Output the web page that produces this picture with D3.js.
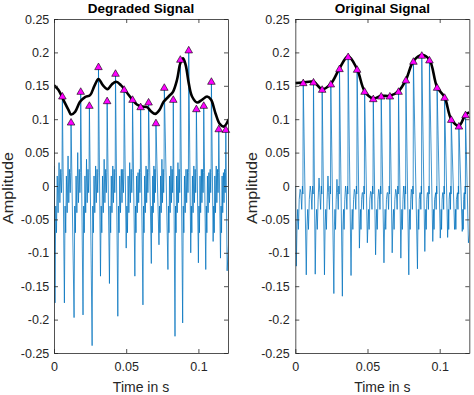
<!DOCTYPE html>
<html><head><meta charset="utf-8">
<script src="https://cdn.jsdelivr.net/npm/d3@7"></script>
<style>html,body{margin:0;padding:0;background:#fff;} svg{display:block;}</style>
</head><body>
<svg id="chart" width="474" height="395"></svg>
<script>
// ---- tick data ----
const xTicks = [0, 0.05, 0.1];
const xTickLabels = ["0", "0.05", "0.1"];
const yTicks = [-0.25, -0.2, -0.15, -0.1, -0.05, 0, 0.05, 0.1, 0.15, 0.2, 0.25];
const yTickLabels = ["-0.25", "-0.2", "-0.15", "-0.1", "-0.05", "0", "0.05", "0.1", "0.15", "0.2", "0.25"];
const titles = ["Degraded Signal", "Original Signal"];
const xLabel = "Time in s";
const yLabel = "Amplitude";

// ---- degraded signal ----
const degPeakT = [0.0058, 0.0118, 0.0185, 0.0245, 0.0308, 0.0368, 0.0426, 0.0486, 0.0544, 0.0600, 0.0655, 0.0706, 0.0764, 0.0826, 0.0875, 0.0933, 0.0986, 0.1037, 0.1090, 0.1141, 0.1190];
const degPeakV = [0.135, 0.096, 0.142, 0.121, 0.179, 0.128, 0.169, 0.145, 0.130, 0.119, 0.126, 0.095, 0.148, 0.130, 0.190, 0.204, 0.116, 0.121, 0.157, 0.086, 0.085];
const degTroughT = [0.0007, 0.0072, 0.0139, 0.0201, 0.0264, 0.0322, 0.0384, 0.0442, 0.0500, 0.0560, 0.0616, 0.0674, 0.0727, 0.0789, 0.0838, 0.0891, 0.0947, 0.1000, 0.1051, 0.1102, 0.1153, 0.1199];
const degTroughV = [-0.175, -0.175, -0.197, -0.193, -0.239, -0.135, -0.146, -0.195, -0.093, -0.135, -0.178, -0.116, -0.088, -0.125, -0.225, -0.205, -0.100, -0.115, -0.125, -0.083, -0.108, -0.127];
const degBumpV = [0.035, 0.045, 0.050, 0.040, 0.030, 0.040, 0.030, 0.025, 0.035, 0.020, 0.030, 0.030, 0.040, 0.030, 0.035, 0.025, 0.030, 0.025, 0.020, 0.030, 0.020];
const degShapeFrac = [0.10, 0.20, 0.30, 0.42, 0.55, 0.66, 0.78, 0.88, 0.95];
const degShapeV = [-0.030, -0.070, 0.015, -0.040, 0.040, -0.025, 0.025, -0.010, 0.020];
const degStartV = 0.03;
const degEnvT = [0, 0.003, 0.0065, 0.010, 0.0118, 0.0146, 0.018, 0.0215, 0.025, 0.028, 0.0308, 0.0338, 0.037, 0.040, 0.043, 0.0463, 0.050, 0.054, 0.0574, 0.0609, 0.0644, 0.0671, 0.0701, 0.0731, 0.0759, 0.0794, 0.0824, 0.0852, 0.0875, 0.0894, 0.0912, 0.0933, 0.0956, 0.0991, 0.1025, 0.106, 0.1088, 0.1118, 0.1148, 0.1176, 0.121];
const degEnvV = [0.151, 0.144, 0.129, 0.114, 0.107, 0.111, 0.126, 0.133, 0.136, 0.150, 0.160, 0.151, 0.145, 0.152, 0.156, 0.151, 0.141, 0.130, 0.122, 0.119, 0.118, 0.112, 0.108, 0.114, 0.126, 0.134, 0.141, 0.159, 0.184, 0.191, 0.181, 0.154, 0.134, 0.125, 0.129, 0.134, 0.129, 0.109, 0.093, 0.089, 0.100];

// ---- original signal ----
const origPeakT = [0.0055, 0.0126, 0.0186, 0.0246, 0.0306, 0.0366, 0.0428, 0.0480, 0.0540, 0.0595, 0.0655, 0.0715, 0.0766, 0.0818, 0.0876, 0.0929, 0.0982, 0.1034, 0.1080, 0.1133, 0.1179];
const origPeakV = [0.155, 0.156, 0.145, 0.153, 0.176, 0.194, 0.175, 0.142, 0.131, 0.135, 0.135, 0.142, 0.159, 0.187, 0.196, 0.189, 0.148, 0.133, 0.100, 0.090, 0.107];
const origTroughT = [0.0007, 0.0076, 0.0138, 0.0202, 0.0267, 0.0326, 0.0386, 0.0444, 0.0499, 0.0556, 0.0614, 0.0671, 0.0731, 0.0786, 0.0846, 0.0897, 0.0952, 0.1004, 0.1055, 0.1103, 0.1156, 0.1199];
const origTroughV = [-0.120, -0.133, -0.132, -0.133, -0.161, -0.165, -0.134, -0.093, -0.085, -0.103, -0.115, -0.100, -0.108, -0.133, -0.124, -0.098, -0.083, -0.078, -0.077, -0.065, -0.068, -0.085];
const origBumpV = [-0.005, 0.000, 0.012, 0.015, 0.010, 0.000, -0.005, -0.010, -0.008, -0.005, -0.010, -0.005, 0.000, -0.005, -0.010, -0.010, -0.015, -0.010, -0.010, -0.015, -0.010];
const origShapeFrac = [0.10, 0.20, 0.30, 0.42, 0.55, 0.66, 0.78, 0.88, 0.95];
const origShapeV = [-0.060, -0.035, -0.065, -0.020, -0.045, -0.010, -0.035, 0.000, -0.012];
const origStartV = 0.0;
const origEnvT = [0, 0.0055, 0.0126, 0.0186, 0.0246, 0.0306, 0.0366, 0.0428, 0.0480, 0.0540, 0.0595, 0.0655, 0.0715, 0.0766, 0.0818, 0.0876, 0.0929, 0.0982, 0.1034, 0.1080, 0.1133, 0.1179, 0.1205];
const origEnvV = [0.154, 0.155, 0.156, 0.145, 0.153, 0.176, 0.194, 0.175, 0.142, 0.131, 0.135, 0.135, 0.142, 0.159, 0.187, 0.196, 0.189, 0.148, 0.133, 0.100, 0.090, 0.107, 0.110];

const BUMP_INDEX = 4;
function buildWave(startV, troughT, troughV, peakT, peakV, shapeFrac, shapeV, bumpV) {
  const pts = [[0, startV]];
  for (let i = 0; i < peakT.length; i++) {
    const t0 = troughT[i], t1 = peakT[i];
    pts.push([t0, troughV[i]]);
    shapeFrac.forEach((f, k) => pts.push([t0 + (t1 - t0) * f, k === BUMP_INDEX ? bumpV[i] : shapeV[k]]));
    pts.push([t1, peakV[i]]);
  }
  const n = troughT.length - 1;
  pts.push([troughT[n], troughV[n]]);
  pts.push([0.1215, -0.06]);
  return pts;
}

const panels = [
  { left: 54, right: 228, title: titles[0], ylabX: 12.5, tickGap: 4.7,
    wave: buildWave(degStartV, degTroughT, degTroughV, degPeakT, degPeakV, degShapeFrac, degShapeV, degBumpV),
    env: degEnvT.map((t, i) => [t, degEnvV[i]]),
    marks: degPeakT.map((t, i) => [t, degPeakV[i]]) },
  { left: 295.3, right: 469.3, title: titles[1], ylabX: 256.5, tickGap: 5.6,
    wave: buildWave(origStartV, origTroughT, origTroughV, origPeakT, origPeakV, origShapeFrac, origShapeV, origBumpV),
    env: origEnvT.map((t, i) => [t, origEnvV[i]]),
    marks: origPeakT.map((t, i) => [t, origPeakV[i]]) }
];

const plotTop = 19, plotBottom = 353;
const svg = d3.select("#chart");
const font = "'Liberation Sans', Arial, Helvetica, sans-serif";
const axisColor = "#262626";

panels.forEach((p, pi) => {
  const x = d3.scaleLinear().domain([0, 0.1205]).range([p.left, p.right]);
  const y = d3.scaleLinear().domain([-0.25, 0.25]).range([plotBottom, plotTop]);
  const g = svg.append("g");
  const clipId = "clip" + pi;
  svg.append("clipPath").attr("id", clipId).append("rect")
    .attr("x", p.left).attr("y", plotTop).attr("width", p.right - p.left).attr("height", plotBottom - plotTop);

  const waveLine = d3.line().x(d => x(d[0])).y(d => y(d[1]));
  const envLine = d3.line().x(d => x(d[0])).y(d => y(d[1])).curve(d3.curveCatmullRom);
  g.append("path").datum(p.wave).attr("clip-path", `url(#${clipId})`)
    .attr("d", waveLine).attr("fill", "none").attr("stroke", "#0072BD")
    .attr("stroke-width", 0.75).attr("stroke-linejoin", "round");

  g.append("path").datum(p.env).attr("clip-path", `url(#${clipId})`)
    .attr("d", envLine).attr("fill", "none").attr("stroke", "#000")
    .attr("stroke-width", 2.6).attr("stroke-linejoin", "round");

  g.selectAll("path.mk").data(p.marks).join("path").attr("class", "mk")
    .attr("transform", d => `translate(${x(d[0])},${y(d[1])})`)
    .attr("d", "M0,-3.4L3.8,3.2L-3.8,3.2Z")
    .attr("fill", "#FF00FF").attr("stroke", "#000").attr("stroke-width", 0.6);

  const ax = (gen, tx, ty, labels) => {
    const a = g.append("g").attr("transform", `translate(${tx},${ty})`).call(gen);
    a.selectAll(".domain").attr("stroke", axisColor).attr("stroke-width", 0.8);
    a.selectAll(".tick line").attr("stroke", axisColor).attr("stroke-width", 0.8);
    a.selectAll("text").attr("fill", axisColor).style("font-family", font).style("font-size", "12.5px");
    if (!labels) a.selectAll("text").remove();
    return a;
  };
  ax(d3.axisBottom(x).tickValues(xTicks).tickFormat((d, i) => xTickLabels[i]).tickSizeInner(-4).tickSizeOuter(0).tickPadding(9), 0, plotBottom, true);
  ax(d3.axisTop(x).tickValues(xTicks).tickSizeInner(-4).tickSizeOuter(0), 0, plotTop, false);
  ax(d3.axisLeft(y).tickValues(yTicks).tickFormat((d, i) => yTickLabels[i]).tickSizeInner(-4).tickSizeOuter(0).tickPadding(p.tickGap), p.left, 0, true);
  ax(d3.axisRight(y).tickValues(yTicks).tickSizeInner(-4).tickSizeOuter(0), p.right, 0, false);

  g.append("text").attr("x", (p.left + p.right) / 2).attr("y", 13)
    .attr("text-anchor", "middle").attr("fill", "#000")
    .style("font-family", font).style("font-size", "13.5px").style("font-weight", "bold")
    .text(p.title);
  g.append("text").attr("x", (p.left + p.right) / 2).attr("y", 391.5)
    .attr("text-anchor", "middle").attr("fill", axisColor)
    .style("font-family", font).style("font-size", "14px").text(xLabel);
  g.append("text").attr("transform", `translate(${p.ylabX},${(plotTop + plotBottom) / 2 + 2}) rotate(-90)`)
    .attr("text-anchor", "middle").attr("fill", axisColor)
    .attr("textLength", 72).attr("lengthAdjust", "spacingAndGlyphs")
    .style("font-family", font).style("font-size", "14.5px").text(yLabel);
});
</script>
</body></html>
